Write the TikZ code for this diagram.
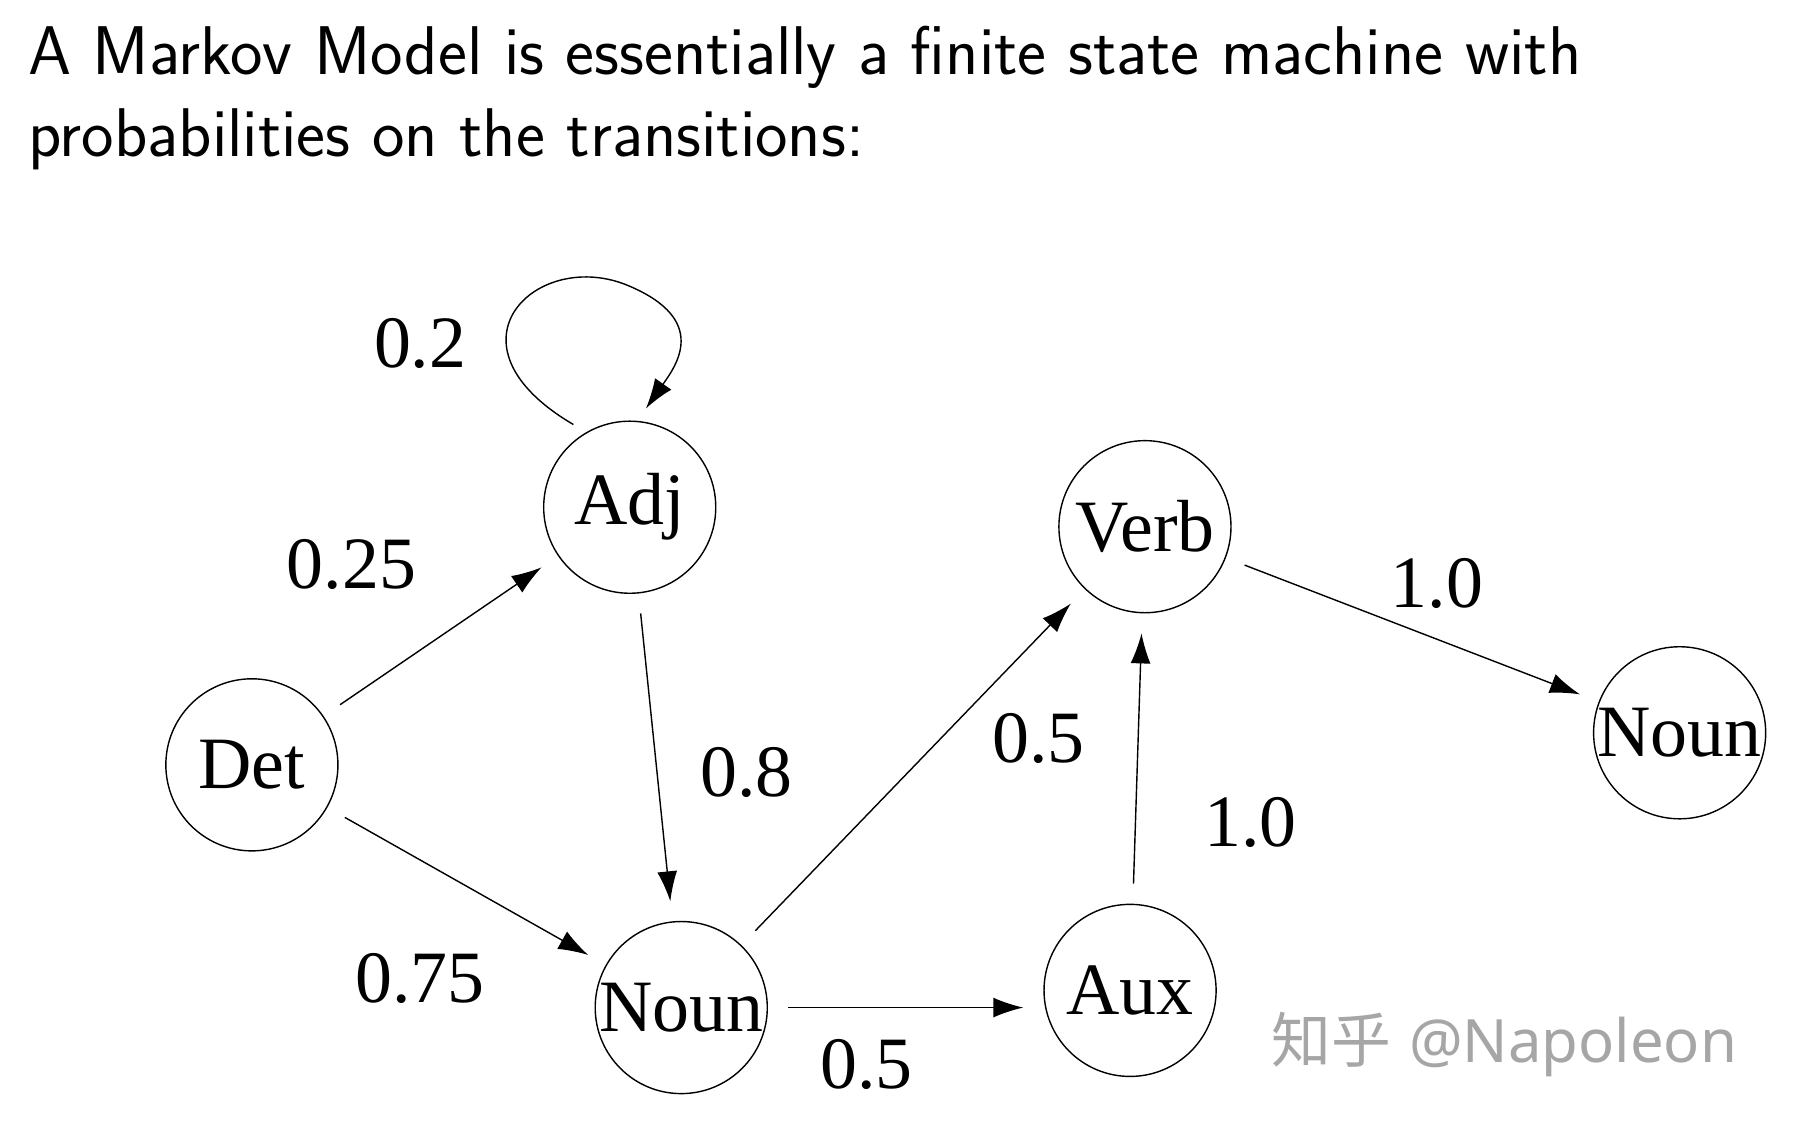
\documentclass[tikz,border=0pt]{standalone}
\usepackage{fontspec}
\newfontfamily\tms{Liberation Serif}
\newfontfamily\cjk{Noto Sans CJK SC}
\newfontfamily\wmk{Noto Sans}
\usetikzlibrary{arrows.meta}

\begin{document}
\begin{tikzpicture}[x=0.01145cm,y=-0.01145cm]
	  \tikzset{state/.style={circle,draw=black,thin,minimum size=1.72cm,inner sep=0pt,font=\tms\fontsize{21}{25}\selectfont},
	           prob/.style={font=\tms\fontsize{21}{25}\selectfont},
	           title/.style={anchor=base west,inner sep=0pt,font=\sffamily\fontsize{19.6}{23}\selectfont},
	           trans/.style={-{Latex[length=3mm,width=2mm]},thin,shorten >=0.2cm,shorten <=0.2cm}}
	\useasboundingbox (0,0) rectangle (1566,983.5);

	\node[title] (line_one) at (24,65) {A Markov Model is essentially a finite state machine with};
	\node[title] (line_two) at (24,137) {probabilities on the transitions:};

	\node (det) [state] at (220,668) {Det};
	\node (adj) [state] at (550,443) {Adj};
	\node (noun_left) [state] at (595,880) {Noun};
	\node (verb) [state] at (1000,460) {Verb};
	\node (aux) [state] at (987,865) {Aux};
	\node (noun_right) [state] at (1467,640) {Noun};
	\coordinate (aux_in) at (aux.west |- noun_left.east);

	\draw[trans] (det) -- (adj);
	\draw[trans] (det) -- (noun_left);
	\draw[trans] (adj) -- (noun_left);
	\draw[trans] (noun_left) -- (verb);
	\draw[trans] (noun_left.east) -- (aux_in);
	\draw[trans] (aux) -- (verb);
	\draw[trans] (verb) -- (noun_right);
	\draw[-{Latex[length=3mm,width=2mm]},thin,shorten <=0.15cm,shorten >=0.15cm] (adj.120) .. controls (380,300) and (470,215) .. (550,250) .. controls (620,280) and (590,320) .. (adj.85);

	\node[prob] (p_loop) at (367,300) {0.2};
	\node[prob] (p_det_adj) at (307,493) {0.25};
	\node[prob] (p_adj_noun) at (652,675) {0.8};
	\node[prob] (p_det_noun) at (367,855) {0.75};
	\node[prob] (p_noun_verb) at (907,645) {0.5};
	\node[prob] (p_noun_aux) at (757,930) {0.5};
	\node[prob] (p_aux_verb) at (1092,718) {1.0};
	\node[prob] (p_verb_noun) at (1255,510) {1.0};

	\node[text=black!35,font=\fontsize{17}{20}\selectfont,anchor=east] (mark) at (1528,912) {{\cjk 知乎} {\wmk @Napoleon}};
\end{tikzpicture}
\end{document}
